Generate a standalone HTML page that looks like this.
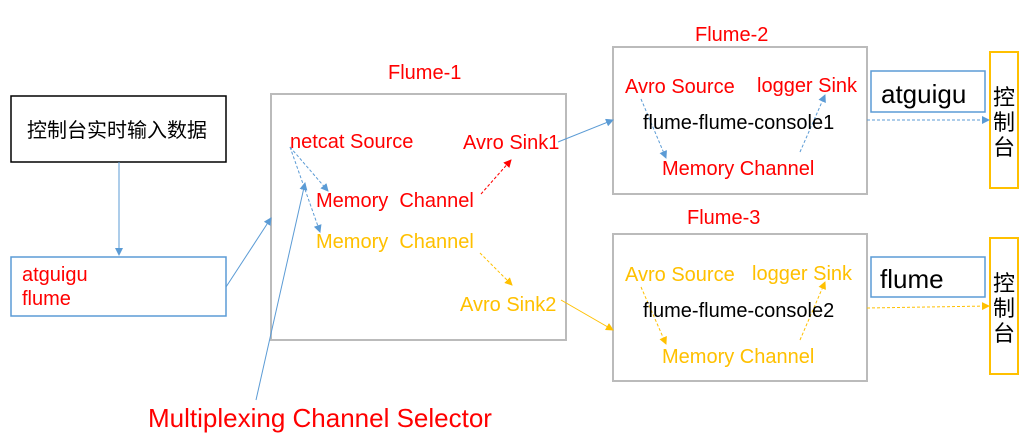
<!DOCTYPE html>
<html><head><meta charset="utf-8"><style>
body{margin:0;width:1032px;height:434px;background:#fff;overflow:hidden}
svg{display:block}
text{font-family:"Liberation Sans","Noto Sans CJK SC",sans-serif}
</style></head><body>
<svg width="1032" height="434" viewBox="0 0 1032 434">
<defs>
<marker id="b" markerWidth="8" markerHeight="8" refX="7" refY="4" orient="auto" markerUnits="userSpaceOnUse"><path d="M0,0L8,4L0,8z" fill="#5B9BD5"/></marker>
<marker id="r" markerWidth="8" markerHeight="8" refX="7" refY="4" orient="auto" markerUnits="userSpaceOnUse"><path d="M0,0L8,4L0,8z" fill="#FF0000"/></marker>
<marker id="y" markerWidth="8" markerHeight="8" refX="7" refY="4" orient="auto" markerUnits="userSpaceOnUse"><path d="M0,0L8,4L0,8z" fill="#FFC000"/></marker>
</defs>
<g fill="none">
<rect x="11" y="96" width="215" height="66" stroke="#000" stroke-width="1.5"/>
<rect x="11" y="257" width="215" height="59" stroke="#5B9BD5" stroke-width="1.5"/>
<rect x="271" y="94" width="295" height="246" stroke="#bbb" stroke-width="2"/>
<rect x="613" y="47" width="254" height="147" stroke="#bbb" stroke-width="2"/>
<rect x="613" y="234" width="254" height="147" stroke="#bbb" stroke-width="2"/>
<rect x="871" y="71" width="114" height="41" stroke="#5B9BD5" stroke-width="1.5"/>
<rect x="871" y="257" width="114" height="40" stroke="#5B9BD5" stroke-width="1.5"/>
<rect x="990" y="52" width="28" height="136" stroke="#FFC000" stroke-width="2"/>
<rect x="990" y="238" width="28" height="136" stroke="#FFC000" stroke-width="2"/>
</g>
<g stroke-width="1">
<line x1="119" y1="162" x2="119" y2="255" stroke="#5B9BD5" marker-end="url(#b)"/>
<line x1="226" y1="287" x2="271" y2="218" stroke="#5B9BD5" marker-end="url(#b)"/>
<line x1="256" y1="400" x2="305" y2="183" stroke="#5B9BD5" marker-end="url(#b)"/>
<line x1="558" y1="142" x2="613" y2="120" stroke="#5B9BD5" marker-end="url(#b)"/>
<line x1="561" y1="300" x2="613" y2="330" stroke="#FFC000" marker-end="url(#y)"/>
<g stroke-dasharray="3,2">
<line x1="290" y1="147" x2="328" y2="191" stroke="#5B9BD5" marker-end="url(#b)"/>
<line x1="290" y1="147" x2="320" y2="232" stroke="#5B9BD5" marker-end="url(#b)"/>
<line x1="481" y1="194" x2="511" y2="160" stroke="#FF0000" marker-end="url(#r)"/>
<line x1="480" y1="253" x2="512" y2="285" stroke="#FFC000" marker-end="url(#y)"/>
<line x1="641" y1="99" x2="666" y2="158" stroke="#5B9BD5" marker-end="url(#b)"/>
<line x1="800" y1="152" x2="825" y2="95" stroke="#5B9BD5" marker-end="url(#b)"/>
<line x1="641" y1="287" x2="666" y2="344" stroke="#FFC000" marker-end="url(#y)"/>
<line x1="800" y1="340" x2="825" y2="282" stroke="#FFC000" marker-end="url(#y)"/>
<line x1="867" y1="120" x2="989" y2="120" stroke="#5B9BD5" marker-end="url(#b)"/>
<line x1="867" y1="308" x2="989" y2="306" stroke="#FFC000" marker-end="url(#y)"/>
</g>
</g>
<g font-size="20">
<text x="27" y="137" fill="#000">控制台实时输入数据</text>
<text x="22" y="281" fill="#f00">atguigu</text>
<text x="22" y="305" fill="#f00">flume</text>
<text x="388" y="79" fill="#f00">Flume-1</text>
<text x="290" y="148" fill="#f00">netcat Source</text>
<text x="463" y="149" fill="#f00">Avro Sink1</text>
<text x="316" y="207" fill="#f00" xml:space="preserve">Memory  Channel</text>
<text x="316" y="248" fill="#FFC000" xml:space="preserve">Memory  Channel</text>
<text x="460" y="311" fill="#FFC000">Avro Sink2</text>
<text x="695" y="41" fill="#f00">Flume-2</text>
<text x="625" y="93" fill="#f00">Avro Source</text>
<text x="757" y="92" fill="#f00">logger Sink</text>
<text x="643" y="129" fill="#000">flume-flume-console1</text>
<text x="662" y="175" fill="#f00">Memory Channel</text>
<text x="687" y="224" fill="#f00">Flume-3</text>
<text x="625" y="281" fill="#FFC000">Avro Source</text>
<text x="752" y="280" fill="#FFC000">logger Sink</text>
<text x="643" y="317" fill="#000">flume-flume-console2</text>
<text x="662" y="363" fill="#FFC000">Memory Channel</text>
</g>
<text x="881" y="103" font-size="26" fill="#000">atguigu</text>
<text x="880" y="288" font-size="26" fill="#000">flume</text>
<g font-size="22" fill="#000">
<text x="993" y="105">控</text><text x="993" y="130">制</text><text x="993" y="155">台</text>
<text x="993" y="291">控</text><text x="993" y="316">制</text><text x="993" y="341">台</text>
</g>
<text x="148" y="427" font-size="26" fill="#f00">Multiplexing Channel Selector</text>
</svg>
</body></html>
